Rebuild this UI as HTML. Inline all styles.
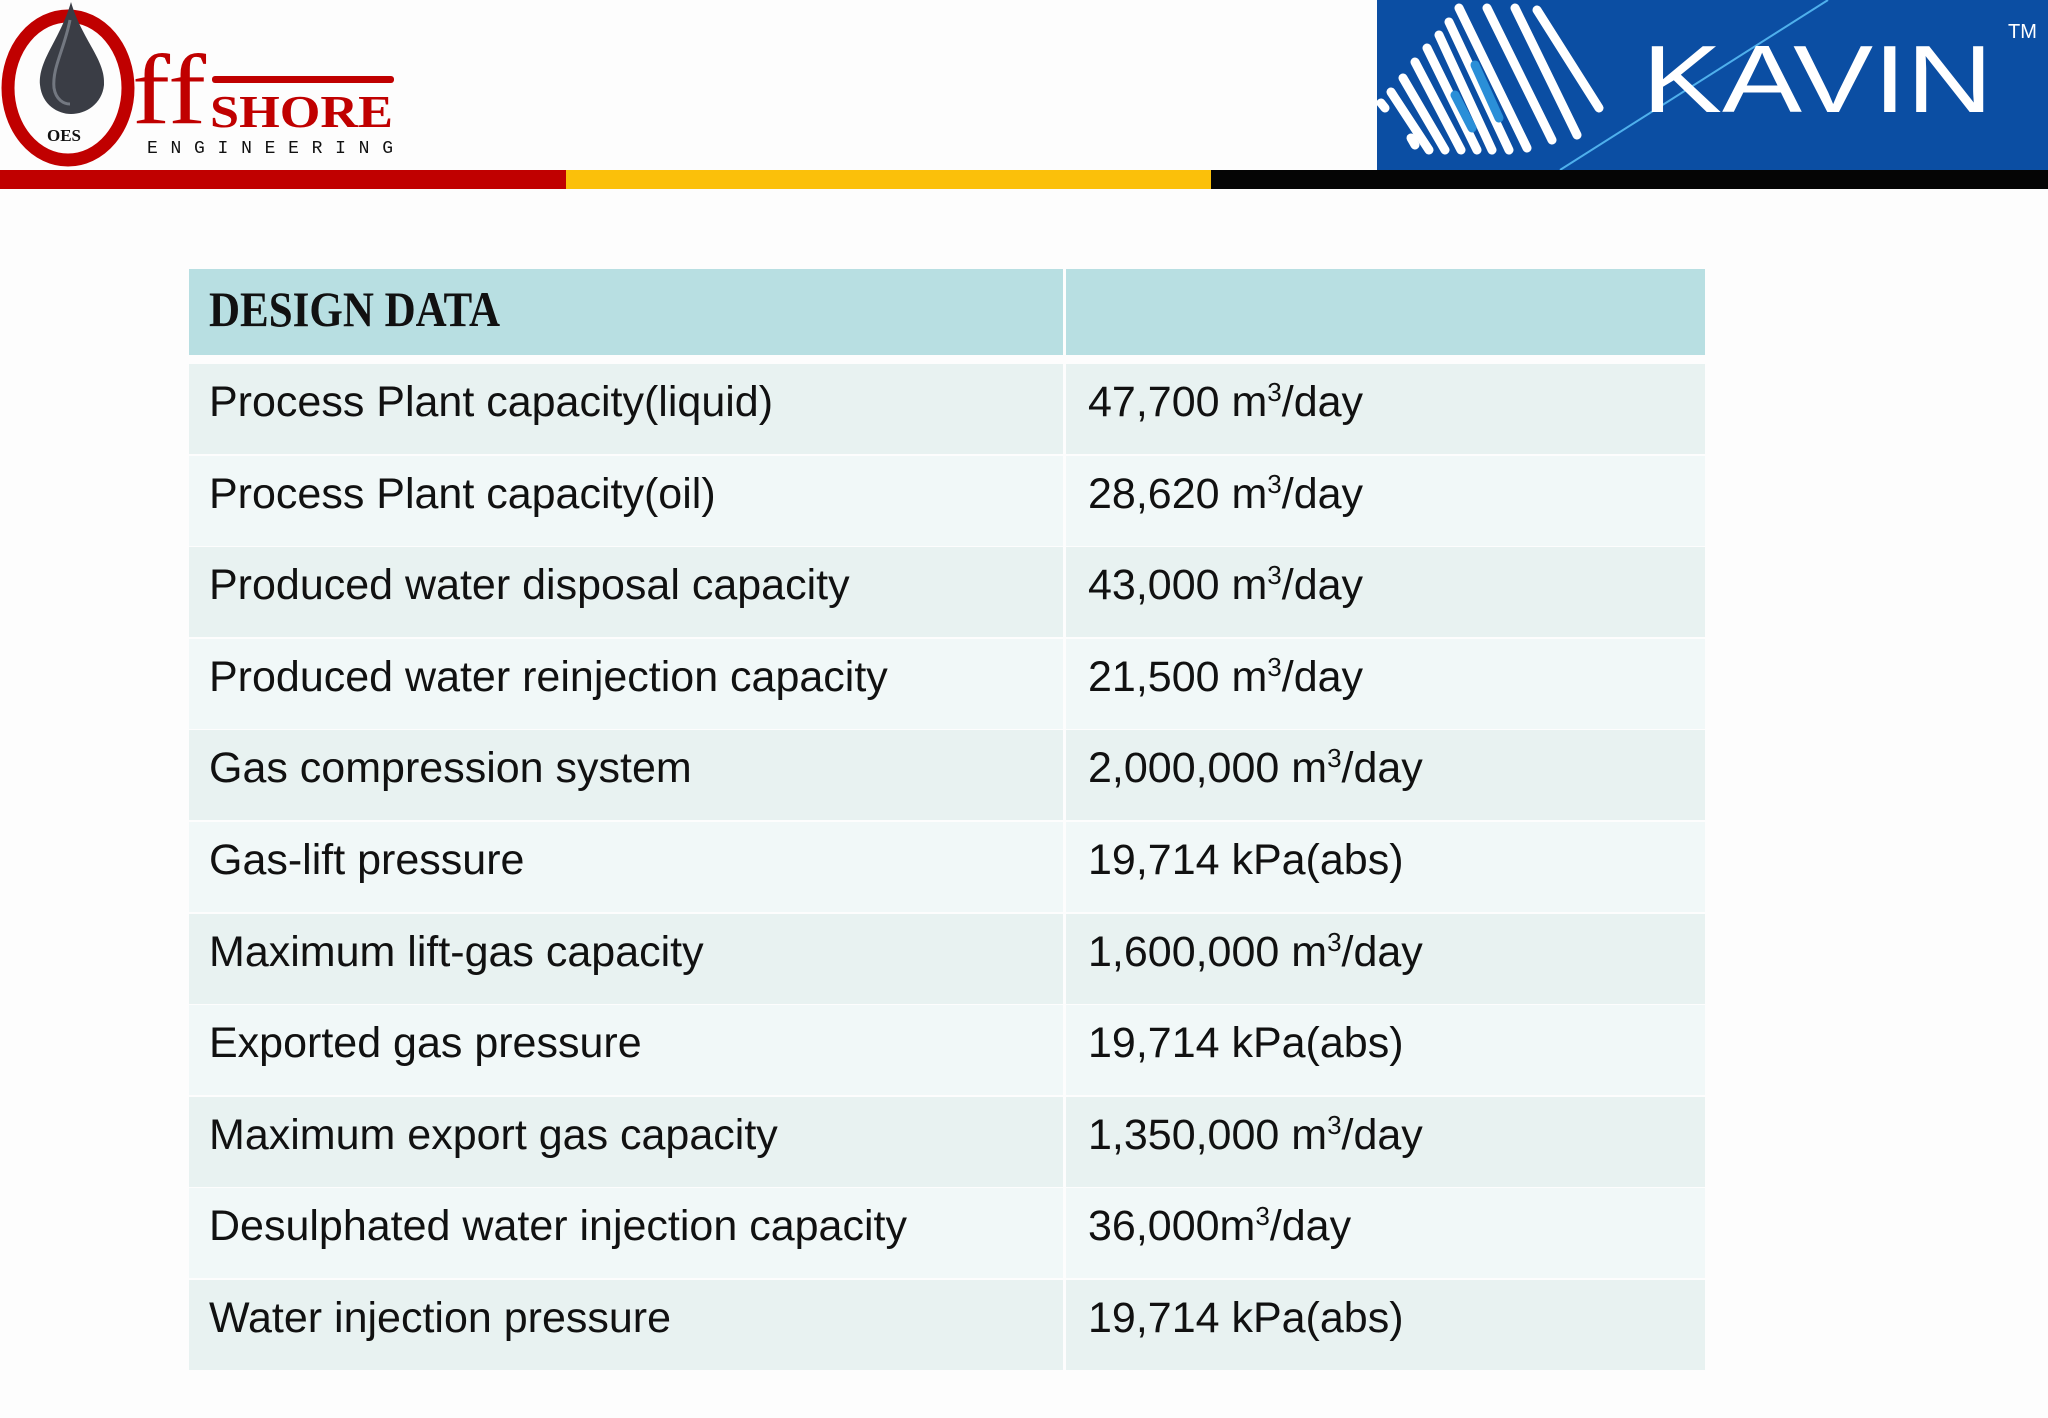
<!DOCTYPE html>
<html><head><meta charset="utf-8"><style>
html,body{margin:0;padding:0;}
body{width:2048px;height:1418px;background:#fdfdfd;position:relative;overflow:hidden;font-family:"Liberation Sans",sans-serif;}
.abs{position:absolute;}
.row{position:absolute;left:189px;width:1516px;height:90px;}
.c1,.c2{position:absolute;top:0;height:100%;}
.c1{left:0;width:874px;}
.c2{left:877px;width:639px;}
.t{position:absolute;top:0;line-height:76px;font-size:43px;color:#111;white-space:nowrap;}
.c1 .t{left:20px}.c2 .t{left:22px}
sup{font-size:26px;vertical-align:0;position:relative;top:-15px;}
</style></head><body>
<div class="abs" style="left:0;top:0;width:2048px;height:170px;background:#fdfdfd"></div>
<svg class="abs" style="left:0;top:0" width="420" height="170">
<ellipse cx="68" cy="88" rx="60" ry="72" fill="none" stroke="#c00000" stroke-width="13"/>
<path d="M71 2 C 60 40, 38 60, 40 85 C 42 105, 58 114, 71 114 C 86 114, 102 104, 104 85 C 106 60, 82 40, 71 2 Z" fill="#3a3d45"/>
<path d="M70 20 C 64 50, 52 68, 54 88 C 56 100, 64 104, 70 104" fill="none" stroke="#9aa0aa" stroke-width="3" opacity=".6"/>
<text x="47" y="141" font-family="Liberation Serif,serif" font-weight="bold" font-size="17" fill="#111">OES</text>
<text x="132" y="123" font-family="Liberation Serif,serif" font-size="100" fill="#c00000" textLength="74" lengthAdjust="spacingAndGlyphs">ff</text>
<rect x="212" y="76" width="182" height="7" rx="3" fill="#c00000"/>
<text x="210" y="127" font-family="Liberation Serif,serif" font-weight="bold" font-size="46" fill="#c00000" textLength="183" lengthAdjust="spacingAndGlyphs">SHORE</text>
<text x="147" y="153" font-family="Liberation Mono,monospace" font-size="18" fill="#111" textLength="246" lengthAdjust="spacing">ENGINEERING</text>
</svg>
<svg class="abs" style="left:1377px;top:0" width="671" height="170">
<rect width="671" height="170" fill="#0b4ea3"/>
<g stroke="#ffffff" stroke-width="9" stroke-linecap="round">
<line x1="82" y1="8" x2="150" y2="148"/>
<line x1="110" y1="8" x2="175" y2="140"/>
<line x1="138" y1="8" x2="200" y2="135"/>
<line x1="160" y1="10" x2="222" y2="108"/>
<line x1="72" y1="22" x2="132" y2="150"/>
<line x1="62" y1="35" x2="115" y2="150"/>
<line x1="50" y1="48" x2="100" y2="150"/>
<line x1="38" y1="62" x2="84" y2="150"/>
<line x1="26" y1="78" x2="68" y2="150"/>
<line x1="14" y1="92" x2="52" y2="150"/>
<line x1="4" y1="103" x2="8" y2="108"/>
<line x1="34" y1="138" x2="38" y2="145"/>
</g>
<g stroke="#2a8fd8" stroke-width="9" stroke-linecap="round"><line x1="98" y1="65" x2="122" y2="118"/><line x1="78" y1="95" x2="95" y2="128"/></g>
<line x1="451" y1="0" x2="183" y2="170" stroke="#4fb0ec" stroke-width="2"/>
<text x="265" y="112" font-family="Liberation Sans,sans-serif" font-size="96" fill="#fff" textLength="351" lengthAdjust="spacingAndGlyphs">KAVIN</text>
<text x="631" y="38" font-family="Liberation Sans,sans-serif" font-size="20" fill="#fff">TM</text>
</svg>
<div class="abs" style="left:0;top:170px;width:566px;height:19px;background:#c00000"></div>
<div class="abs" style="left:566px;top:170px;width:645px;height:19px;background:#fbc00a"></div>
<div class="abs" style="left:1211px;top:170px;width:837px;height:19px;background:#050505"></div>

<div class="row" style="top:269px;height:86px">
<div class="c1" style="background:#b8dfe2"><span class="t" style="line-height:80px;font-family:'Liberation Serif',serif;font-weight:bold;font-size:50px;transform:scaleX(.86);transform-origin:left;">DESIGN DATA</span></div>
<div class="c2" style="background:#b8dfe2"></div>
</div>
<div id="rows"></div>
<script>
var labels=["Process Plant capacity(liquid)","Process Plant capacity(oil)","Produced water disposal capacity","Produced water reinjection capacity","Gas compression system","Gas-lift pressure","Maximum lift-gas capacity","Exported gas pressure","Maximum export gas capacity","Desulphated water injection capacity","Water injection pressure"];
var values=["47,700 m<sup>3</sup>/day","28,620 m<sup>3</sup>/day","43,000 m<sup>3</sup>/day","21,500 m<sup>3</sup>/day","2,000,000 m<sup>3</sup>/day","19,714 kPa(abs)","1,600,000 m<sup>3</sup>/day","19,714 kPa(abs)","1,350,000 m<sup>3</sup>/day","36,000m<sup>3</sup>/day","19,714 kPa(abs)"];
var host=document.getElementById('rows');
for(var i=0;i<labels.length;i++){
  var r=document.createElement('div');
  r.className='row';
  
  
  r.style.top=(364+i*91.6)+'px';
  var bg=(i%2==0)?'#e8f2f1':'#f1f8f8';
  r.innerHTML='<div class="c1" style="background:'+bg+'"><span class="t">'+labels[i]+'</span></div><div class="c2" style="background:'+bg+'"><span class="t">'+values[i]+'</span></div>';
  host.appendChild(r);
}
</script>
</body></html>
